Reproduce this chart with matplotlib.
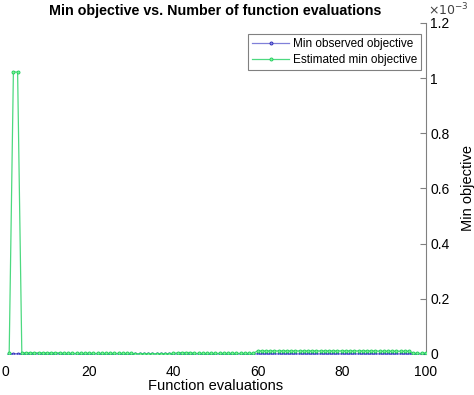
import matplotlib
matplotlib.use("Agg")
import matplotlib.pyplot as plt
import numpy as np

plt.rcParams['font.family'] = ['Liberation Sans', 'DejaVu Sans']

evals = list(range(1, 101))
# values in units of 1e-3
min_observed = [
    0.000, 0.001, 0.001, 0.001, 0.001, 0.001, 0.001, 0.001, 0.001, 0.001,
    0.001, 0.001, 0.001, 0.000, 0.000, 0.000, 0.000, 0.000, 0.000, 0.000,
    0.000, 0.000, 0.000, 0.000, 0.000, 0.000, 0.000, 0.000, 0.000, 0.000,
    0.000, 0.000, 0.000, 0.000, 0.000, 0.000, 0.000, 0.000, 0.000, 0.000,
    0.000, 0.000, 0.000, 0.000, 0.000, 0.000, 0.000, 0.000, 0.000, 0.000,
    0.000, 0.000, 0.000, 0.000, 0.000, 0.000, 0.000, 0.000, 0.000, 0.000,
    0.000, 0.000, 0.000, 0.000, 0.000, 0.000, 0.000, 0.000, 0.000, 0.000,
    0.000, 0.000, 0.000, 0.000, 0.000, 0.000, 0.000, 0.000, 0.000, 0.000,
    0.000, 0.000, 0.000, 0.000, 0.000, 0.000, 0.000, 0.000, 0.000, 0.000,
    0.000, 0.000, 0.000, 0.000, 0.000, 0.000, 0.000, 0.000, 0.000, 0.000,
]
est_min = [
    0.002, 1.022, 1.022, 0.004, 0.004, 0.004, 0.004, 0.004, 0.004, 0.004,
    0.004, 0.004, 0.004, 0.002, 0.002, 0.002, 0.002, 0.002, 0.002, 0.003,
    0.002, 0.002, 0.002, 0.002, 0.002, 0.002, 0.002, 0.002, 0.002, 0.002,
    0.001, 0.001, 0.001, 0.001, 0.001, 0.001, 0.001, 0.001, 0.001, 0.002,
    0.004, 0.005, 0.005, 0.005, 0.002, 0.002, 0.002, 0.002, 0.002, 0.002,
    0.002, 0.002, 0.002, 0.002, 0.002, 0.002, 0.002, 0.002, 0.002, 0.011,
    0.011, 0.011, 0.011, 0.011, 0.011, 0.011, 0.011, 0.011, 0.011, 0.011,
    0.011, 0.011, 0.011, 0.011, 0.011, 0.011, 0.011, 0.011, 0.011, 0.011,
    0.011, 0.011, 0.011, 0.011, 0.011, 0.011, 0.011, 0.011, 0.010, 0.010,
    0.010, 0.010, 0.010, 0.010, 0.010, 0.010, 0.003, 0.002, 0.002, 0.004,
]
x_ticks = [0, 20, 40, 60, 80, 100]
y_ticks = [0, 0.2, 0.4, 0.6, 0.8, 1.0, 1.2]
y_tick_labels = ['0', '0.2', '0.4', '0.6', '0.8', '1', '1.2']

fig = plt.figure(figsize=(4.74, 3.95), dpi=100)
ax = fig.add_axes([0.0105, 0.104, 0.888, 0.838])

ax.plot(evals, min_observed, color=(0.5, 0.5, 0.85), lw=0.9, marker='o',
        markersize=2.2, markeredgecolor=(0.15, 0.15, 0.7), markerfacecolor=(0.55, 0.55, 0.9),
        markeredgewidth=0.6, label='Min observed objective', zorder=2)
ax.plot(evals, est_min, color=(0.3, 0.85, 0.5), lw=0.9, marker='o',
        markersize=2.2, markeredgecolor=(0.1, 0.8, 0.35), markerfacecolor=(0.5, 0.95, 0.6),
        markeredgewidth=0.6, label='Estimated min objective', zorder=3)

ax.set_xlim(0, 100)
ax.set_ylim(0, 1.2)
ax.set_xticks(x_ticks)
ax.set_yticks(y_ticks)
ax.set_yticklabels(y_tick_labels)

for s in ['left', 'top', 'bottom']:
    ax.spines[s].set_visible(False)
ax.spines['right'].set_color('#808080')
ax.yaxis.tick_right()
ax.yaxis.set_label_position('right')
ax.tick_params(axis='y', direction='in', length=4, color='#808080', labelsize=10, pad=3)
ax.tick_params(axis='x', length=0, labelsize=10, pad=8)

ax.set_xlabel('Function evaluations', fontsize=10.5, labelpad=0)
ax.set_ylabel('Min objective', fontsize=10.5, labelpad=8)
ax.set_title('Min objective vs. Number of function evaluations', fontsize=10.3,
             fontweight='bold', pad=6)

fig.text(0.902, 0.962, r'$\times10^{-3}$', fontsize=9, color='#404040')

leg = ax.legend(loc='upper right', bbox_to_anchor=(0.995, 0.975), fontsize=8.5,
                frameon=True, fancybox=False, edgecolor='#808080', framealpha=1,
                handlelength=3.2, borderpad=0.35, labelspacing=0.35, handletextpad=0.3,
                borderaxespad=0.2)
leg.get_frame().set_linewidth(0.8)

fig.savefig('out.png', dpi=100)
